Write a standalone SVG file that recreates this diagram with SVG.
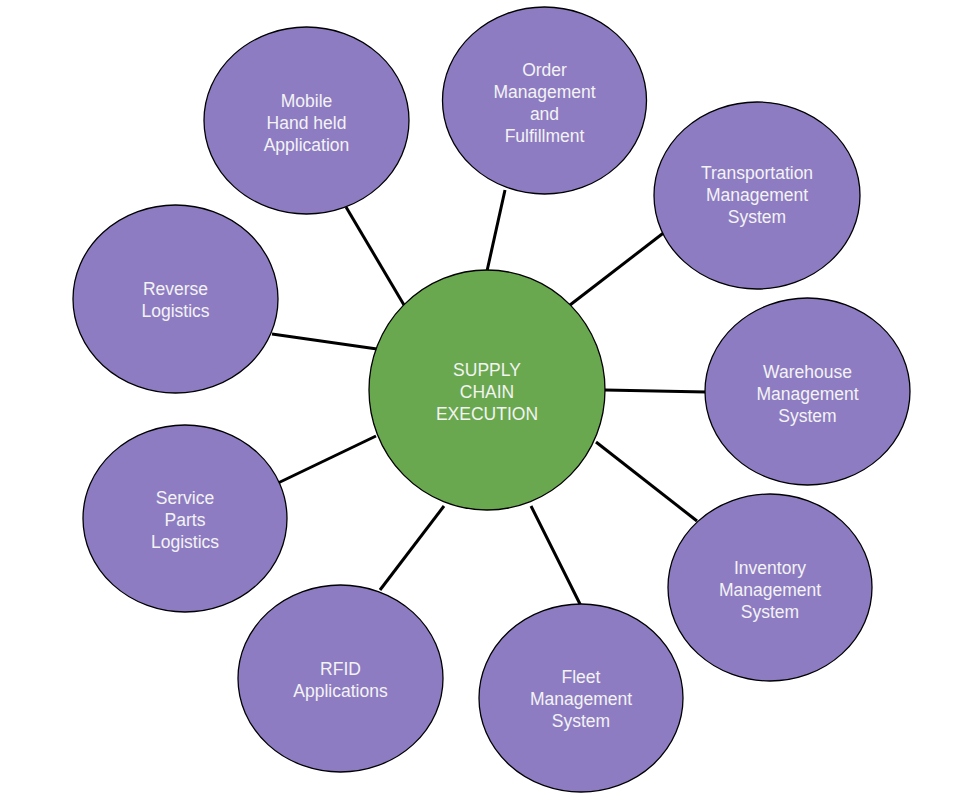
<svg xmlns="http://www.w3.org/2000/svg" width="974" height="806" viewBox="0 0 974 806">
<style>
.node{fill:#8e7cc3;stroke:#000;stroke-width:1.3}
.hub{fill:#6aa84f;stroke:#000;stroke-width:1.3}
.lbl{font-family:"Liberation Sans",Arial,sans-serif;font-size:17.5px;fill:#f3f3f3;text-anchor:middle}
.conn line{stroke:#000;stroke-width:3;stroke-linecap:butt}
</style>
<rect width="974" height="806" fill="#fff"/>
<g id="connectors" class="conn">
<line x1="346" y1="207" x2="404" y2="305"/>
<line x1="505" y1="190" x2="487" y2="271"/>
<line x1="666" y1="231" x2="570" y2="305"/>
<line x1="605" y1="390" x2="706" y2="392"/>
<line x1="596" y1="442" x2="697" y2="521"/>
<line x1="531" y1="506" x2="581" y2="606"/>
<line x1="444" y1="506" x2="380" y2="590"/>
<line x1="376" y1="436" x2="278" y2="483"/>
<line x1="272" y1="334" x2="377" y2="349"/>
</g>
<g id="hub">
<ellipse class="hub" cx="487" cy="390" rx="118" ry="120"/>
<text class="lbl"><tspan x="487" y="376">SUPPLY</tspan><tspan x="487" y="398">CHAIN</tspan><tspan x="487" y="420">EXECUTION</tspan></text>
</g>
<g id="mobile">
<ellipse class="node" cx="306.5" cy="120.5" rx="102.5" ry="93.5"/>
<text class="lbl"><tspan x="306.5" y="107">Mobile</tspan><tspan x="306.5" y="129">Hand held</tspan><tspan x="306.5" y="151">Application</tspan></text>
</g>
<g id="order">
<ellipse class="node" cx="544.5" cy="100.5" rx="102" ry="93.5"/>
<text class="lbl"><tspan x="544.5" y="76">Order</tspan><tspan x="544.5" y="98">Management</tspan><tspan x="544.5" y="120">and</tspan><tspan x="544.5" y="142">Fulfillment</tspan></text>
</g>
<g id="transportation">
<ellipse class="node" cx="757" cy="195.5" rx="103" ry="93.5"/>
<text class="lbl"><tspan x="757" y="179">Transportation</tspan><tspan x="757" y="201">Management</tspan><tspan x="757" y="223">System</tspan></text>
</g>
<g id="warehouse">
<ellipse class="node" cx="807.5" cy="391.5" rx="102.5" ry="93.5"/>
<text class="lbl"><tspan x="807.5" y="378">Warehouse</tspan><tspan x="807.5" y="400">Management</tspan><tspan x="807.5" y="422">System</tspan></text>
</g>
<g id="inventory">
<ellipse class="node" cx="770" cy="587.5" rx="102" ry="93.5"/>
<text class="lbl"><tspan x="770" y="574">Inventory</tspan><tspan x="770" y="596">Management</tspan><tspan x="770" y="618">System</tspan></text>
</g>
<g id="fleet">
<ellipse class="node" cx="581" cy="698" rx="102" ry="94"/>
<text class="lbl"><tspan x="581" y="683">Fleet</tspan><tspan x="581" y="705">Management</tspan><tspan x="581" y="727">System</tspan></text>
</g>
<g id="rfid">
<ellipse class="node" cx="340.5" cy="678.5" rx="102.5" ry="93.5"/>
<text class="lbl"><tspan x="340.5" y="675">RFID</tspan><tspan x="340.5" y="697">Applications</tspan></text>
</g>
<g id="service">
<ellipse class="node" cx="185" cy="518.5" rx="102" ry="93.5"/>
<text class="lbl"><tspan x="185" y="504">Service</tspan><tspan x="185" y="526">Parts</tspan><tspan x="185" y="548">Logistics</tspan></text>
</g>
<g id="reverse">
<ellipse class="node" cx="175.5" cy="299" rx="102.5" ry="94"/>
<text class="lbl"><tspan x="175.5" y="295">Reverse</tspan><tspan x="175.5" y="317">Logistics</tspan></text>
</g>
</svg>
